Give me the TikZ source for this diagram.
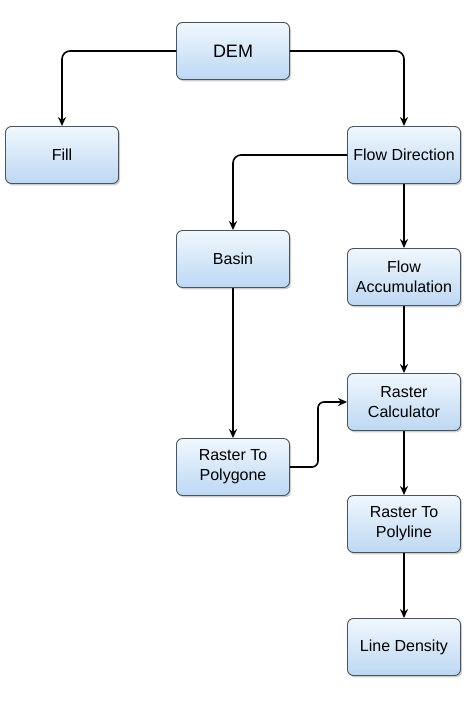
\documentclass[tikz,border=0pt]{standalone}
\usepackage{fontspec}
\setmainfont{Liberation Sans}
\usetikzlibrary{shadows,arrows.meta}
\definecolor{topc}{HTML}{F0F7FE}
\definecolor{botc}{HTML}{BDD8F3}
\definecolor{edgec}{HTML}{4A545E}
\begin{document}
\begin{tikzpicture}[x=1pt,y=-1pt,
  box/.style={draw=edgec, line width=0.9pt, rounded corners=6pt,
    top color=topc, bottom color=botc, minimum width=113pt, minimum height=57pt,
    align=center, font=\fontsize{16pt}{20pt}\selectfont, inner sep=2pt,
    drop shadow={shadow xshift=1.5pt, shadow yshift=-1.8pt, opacity=0.4}},
  bigtext/.style={font=\fontsize{18pt}{22pt}\selectfont},
  conn/.style={draw=black, line width=1.6pt, rounded corners=8pt, -{Stealth[length=9pt,width=8pt]}}]
\useasboundingbox (0,0) rectangle (474,710);
\node[box,bigtext] (dem) at (233,51) {DEM};
\node[box] (fill) at (62,155) {Fill};
\node[box] (fd) at (404,155) {Flow Direction};
\node[box] (basin) at (233,259) {Basin};
\node[box] (fa) at (404,277) {Flow\\Accumulation};
\node[box] (rc) at (404,402) {Raster\\Calculator};
\node[box] (rpg) at (233,467) {Raster To\\Polygone};
\node[box] (rpl) at (404,524) {Raster To\\Polyline};
\node[box] (ld) at (404,647) {Line Density};
\draw[conn] (dem.west) -| (fill.north);
\draw[conn] (dem.east) -| (fd.north);
\draw[conn] (fd.west) -| (basin.north);
\draw[conn] (fd.south) -- (fa.north);
\draw[conn] (fa.south) -- (rc.north);
\draw[conn] (basin.south) -- (rpg.north);
\draw[conn, rounded corners=6pt] (rpg.east) -- (318,467) -- (318,402) -- (rc.west);
\draw[conn] (rc.south) -- (rpl.north);
\draw[conn] (rpl.south) -- (ld.north);
\end{tikzpicture}
\end{document}
